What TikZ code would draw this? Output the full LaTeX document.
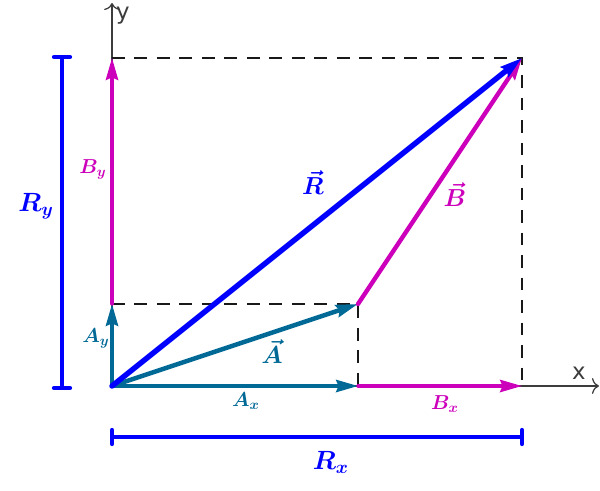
\RequirePackage{fix-cm}
\documentclass[tikz,border=0pt]{standalone}
\usepackage{amsmath,bm}
\usepackage{fontspec}
\newfontfamily\axfont{DejaVu Sans}
\usetikzlibrary{arrows.meta,calc}
\definecolor{cblue}{RGB}{0,0,255}
\definecolor{cmag}{RGB}{204,0,187}
\definecolor{cteal}{RGB}{0,105,150}
\definecolor{caxis}{RGB}{60,60,60}
\tikzset{
  vec/.style={line width=#1, line cap=round, -{Stealth[length=12.5pt,width=7pt,inset=1.5pt]}},
  helper/.style={black!90, line width=1.2pt, dash pattern=on 7.2pt off 5.6pt},
  axisline/.style={caxis, line width=0.7pt, -{To[length=4pt,width=9pt]}},
  bracket/.style={cblue, line width=1.9pt},
  bcap/.style={cblue, line width=2.4pt, line cap=round},
  lbl/.style={inner sep=0pt}
}
\begin{document}
\begin{tikzpicture}[x=0.02cm,y=-0.02cm]
\useasboundingbox (0,0) rectangle (600,491);
% points
\coordinate (O) at (112,386);
\coordinate (A) at (358,304);
\coordinate (R) at (522,58);
\coordinate (Ax) at (358,386);
\coordinate (Ay) at (112,304);
\coordinate (Rx) at (522,386);
\coordinate (Ry) at (112,58);
\coordinate (xend) at (599,386);
\coordinate (yend) at (112,3);
\coordinate (RyT) at (62,57);
\coordinate (RyB) at (62,388);
\coordinate (RxL) at (112,437);
\coordinate (RxR) at (522,437);
% axes
\draw[axisline] (O) -- (xend);
\draw[axisline] (O) -- (yend);
\node[lbl, caxis, font=\axfont\fontsize{13}{13}\selectfont] (xl) at (579,373) {x};
\node[lbl, caxis, font=\axfont\fontsize{13}{13}\selectfont] (yl) at (123,16) {y};
% dashed helpers
\draw[helper] (Ry) -- (R) -- (Rx);
\draw[helper] (Ay) -- (A) -- (Ax);
% components
\draw[vec=1.9pt, cteal] (O) -- (Ax);
\draw[vec=1.9pt, cmag] (Ax) -- (Rx);
\draw[vec=1.9pt, cteal] (O) -- (Ay);
\draw[vec=1.9pt, cmag] (Ay) -- (Ry);
% vectors
\draw[vec=2.6pt, cteal] (O) -- (A);
\draw[vec=2.5pt, cmag] (A) -- (R);
\draw[vec=3.1pt, cblue] (O) -- (R);
% brackets
\draw[bracket] (RyT) -- (RyB);
\draw[bcap] ($(RyT)+(-8,0)$) -- ($(RyT)+(8,0)$);
\draw[bcap] ($(RyB)+(-8,0)$) -- ($(RyB)+(8,0)$);
\draw[bracket] (RxL) -- (RxR);
\draw[bcap] ($(RxL)+(0,-7)$) -- ($(RxL)+(0,7)$);
\draw[bcap] ($(RxR)+(0,-7)$) -- ($(RxR)+(0,7)$);
% labels
\node[lbl, cblue, font=\fontsize{15}{15}\selectfont] (lRy) at (36,206) {$\bm{R_y}$};
\node[lbl, cblue, font=\fontsize{15}{15}\selectfont] (lRx) at (331,462) {$\bm{R_x}$};
\node[lbl, cmag, font=\fontsize{11.5}{11.5}\selectfont] (lBy) at (93,169) {$\bm{B_y}$};
\node[lbl, cteal, font=\fontsize{11.5}{11.5}\selectfont] (lAy) at (96,338) {$\bm{A_y}$};
\node[lbl, cteal, font=\fontsize{11.5}{11.5}\selectfont] (lAx) at (246,401) {$\bm{A_x}$};
\node[lbl, cmag, font=\fontsize{11.5}{11.5}\selectfont] (lBx) at (445,404) {$\bm{B_x}$};
\node[lbl, cblue, font=\fontsize{14}{14}\selectfont] (lR) at (313,183) {$\bm{\vec{R}}$};
\node[lbl, cmag, font=\fontsize{14}{14}\selectfont] (lB) at (455,195) {$\bm{\vec{B}}$};
\node[lbl, cteal, font=\fontsize{14}{14}\selectfont] (lA) at (272,352) {$\bm{\vec{A}}$};
\end{tikzpicture}
\end{document}
